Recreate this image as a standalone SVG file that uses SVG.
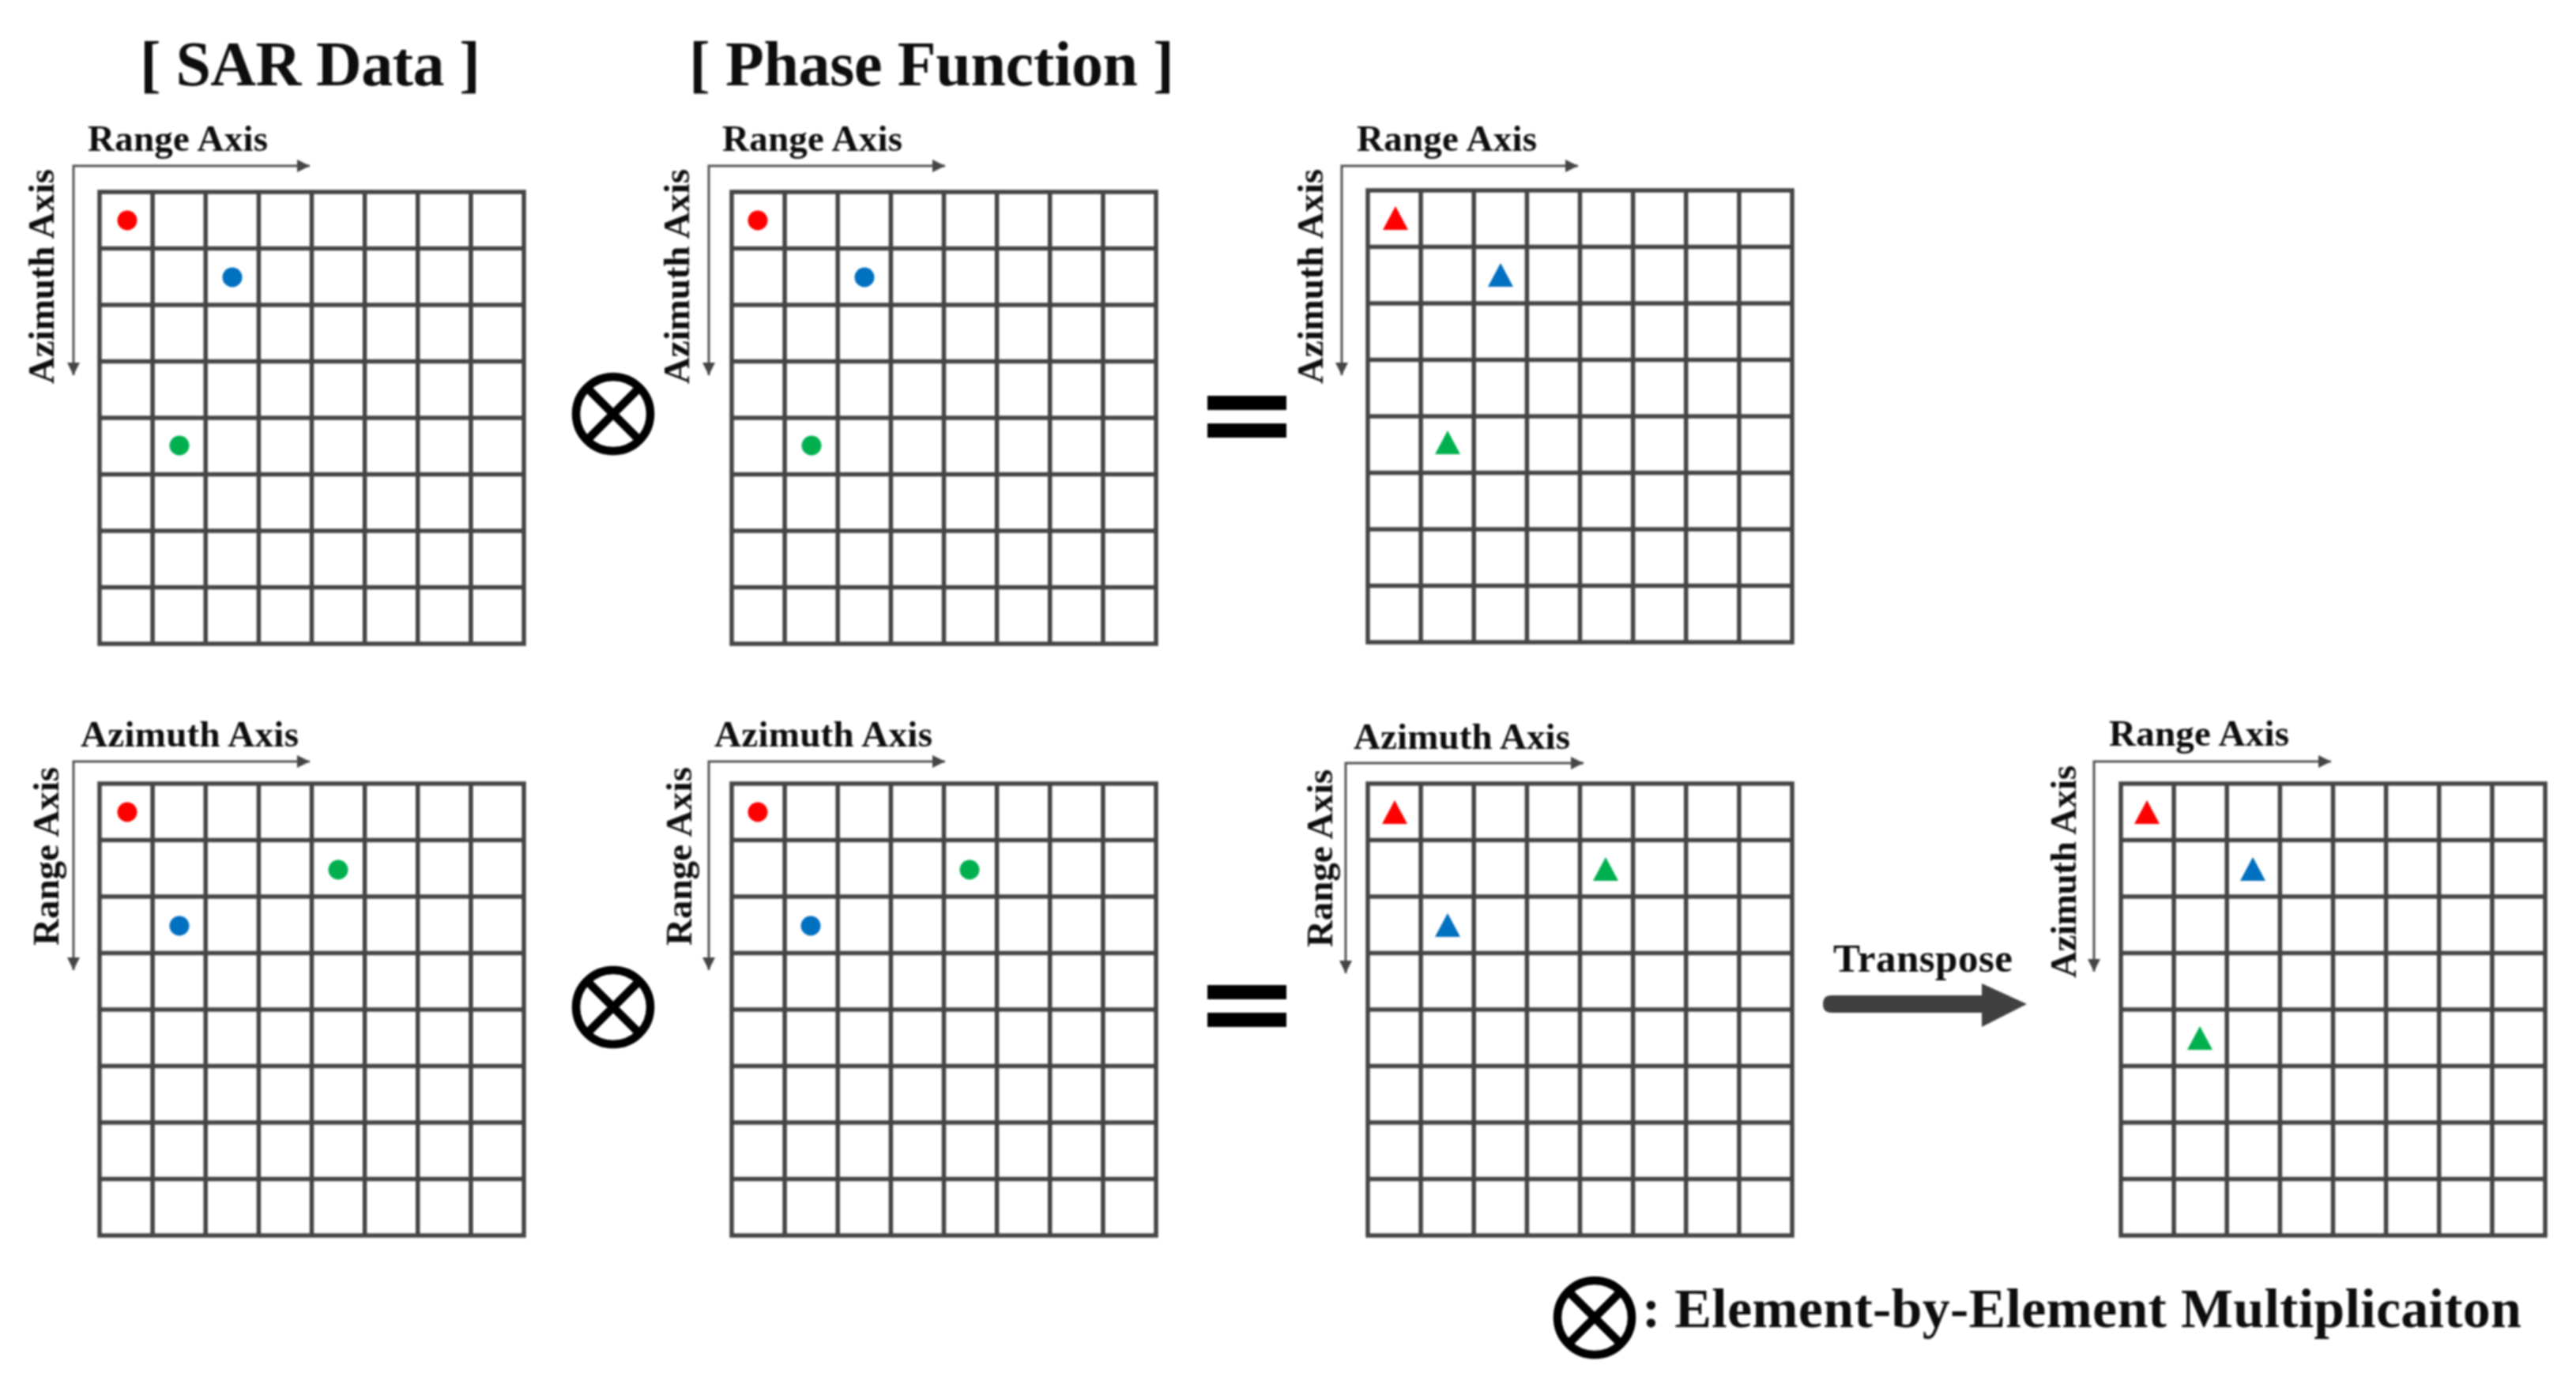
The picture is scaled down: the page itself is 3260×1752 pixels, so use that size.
<svg xmlns="http://www.w3.org/2000/svg" xmlns:xlink="http://www.w3.org/1999/xlink" width="3260" height="1752" viewBox="0 0 3260 1752">
<style>
text{font-family:"Liberation Serif","Times New Roman",serif;font-weight:bold;fill:#111}
.t{font-size:80px}.a{font-size:47px}.n{font-size:51px}.l{font-size:70px}
.g{fill:none;stroke:#444;stroke-width:5.5}
.ax{fill:none;stroke:#555;stroke-width:3;marker-start:url(#ah);marker-end:url(#ah)}
.o{fill:none;stroke:#000;stroke-width:10.5}
.r{fill:#f00}.b{fill:#0070c0}.e{fill:#00b050}
</style>
<defs>
<filter id="soft" filterUnits="userSpaceOnUse" x="0" y="0" width="3260" height="1752"><feGaussianBlur stdDeviation="0.9"/></filter>
<marker id="ah" markerUnits="userSpaceOnUse" markerWidth="20" markerHeight="20" refX="16" refY="8" orient="auto-start-reverse"><path d="M0 0L16 8L0 16z" fill="#444"/></marker>
<path id="grid" class="g" d="M0 0H537V572H0zM0 71.5H537M0 143H537M0 214.500H537M0 286H537M0 357.500H537M0 429H537M0 500.500H537M67.100 0V572M134.200 0V572M201.400 0V572M268.500 0V572M335.600 0V572M402.700 0V572M469.900 0V572"/>
<circle id="dot" r="12.500"/>
<path id="tri" d="M0 -16L16 14H-16z"/>
<g id="otimes"><circle class="o" r="47"/><path class="o" d="M-33 -33L33 33M33 -33L-33 33"/></g>
<path id="eq" d="M0 0H100V18H0zM0 35H100V53H0z" fill="#000"/>
</defs>
<rect width="3260" height="1752" fill="#fff"/>
<g filter="url(#soft)">
<text class="t" x="177" y="108" textLength="431">[ SAR Data ]</text>
<text class="t" x="872" y="108" textLength="614">[ Phase Function ]</text>

<g id="connectors">
<path class="ax" d="M392 210H93V475"/>
<path class="ax" d="M1196 210H897V475"/>
<path class="ax" d="M1997 210H1698V475"/>
<path class="ax" d="M392 964H93V1228"/>
<path class="ax" d="M1196 964H897V1228"/>
<path class="ax" d="M2004 966H1703V1232"/>
<path class="ax" d="M2950 964H2650V1230"/>
<path id="transpose-arrow" fill="#404040" d="M2318 1260H2508V1245L2565 1271L2508 1300V1282H2318Q2307 1282 2307 1271Q2307 1260 2318 1260z"/>
</g>

<g id="panel-a1">
<use href="#grid" x="126" y="243"/>
<text class="a" x="111" y="191" textLength="228">Range Axis</text>
<text class="a" transform="translate(68 486) rotate(-90)" textLength="272">Azimuth Axis</text>
<use href="#dot" class="r" x="161" y="279"/><use href="#dot" class="b" x="294" y="351"/><use href="#dot" class="e" x="227" y="564"/>
</g>
<g id="panel-b1">
<use href="#grid" x="926" y="243"/>
<text class="a" x="914" y="191" textLength="228">Range Axis</text>
<text class="a" transform="translate(872 486) rotate(-90)" textLength="272">Azimuth Axis</text>
<use href="#dot" class="r" x="959" y="279"/><use href="#dot" class="b" x="1094" y="351"/><use href="#dot" class="e" x="1027" y="564"/>
</g>
<g id="panel-c1">
<use href="#grid" x="1731" y="241"/>
<text class="a" x="1717" y="191" textLength="228">Range Axis</text>
<text class="a" transform="translate(1674 486) rotate(-90)" textLength="272">Azimuth Axis</text>
<use href="#tri" class="r" x="1766" y="277"/><use href="#tri" class="b" x="1899" y="349"/><use href="#tri" class="e" x="1832" y="561"/>
</g>
<g id="panel-a2">
<use href="#grid" x="126" y="992"/>
<text class="a" x="102" y="945" textLength="276">Azimuth Axis</text>
<text class="a" transform="translate(74 1197) rotate(-90)" textLength="226">Range Axis</text>
<use href="#dot" class="r" x="161" y="1028"/><use href="#dot" class="e" x="428" y="1101"/><use href="#dot" class="b" x="227" y="1172"/>
</g>
<g id="panel-b2">
<use href="#grid" x="926" y="992"/>
<text class="a" x="904" y="945" textLength="276">Azimuth Axis</text>
<text class="a" transform="translate(875 1197) rotate(-90)" textLength="226">Range Axis</text>
<use href="#dot" class="r" x="959" y="1028"/><use href="#dot" class="e" x="1227" y="1101"/><use href="#dot" class="b" x="1026" y="1172"/>
</g>
<g id="panel-c2">
<use href="#grid" x="1731" y="992"/>
<text class="a" x="1713" y="948" textLength="274">Azimuth Axis</text>
<text class="a" transform="translate(1686 1199) rotate(-90)" textLength="225">Range Axis</text>
<use href="#tri" class="r" x="1765" y="1029"/><use href="#tri" class="e" x="2032" y="1101"/><use href="#tri" class="b" x="1832" y="1172"/>
</g>
<g id="panel-d2">
<use href="#grid" x="2684" y="992"/>
<text class="a" x="2669" y="944" textLength="228">Range Axis</text>
<text class="a" transform="translate(2627 1238) rotate(-90)" textLength="269">Azimuth Axis</text>
<use href="#tri" class="r" x="2717" y="1029"/><use href="#tri" class="b" x="2851" y="1101"/><use href="#tri" class="e" x="2784" y="1315"/>
</g>

<g id="op-1"><use href="#otimes" x="776" y="524"/></g>
<g id="op-2"><use href="#otimes" x="776" y="1275"/></g>
<g id="eq-1"><use href="#eq" x="1528" y="501"/></g>
<g id="eq-2"><use href="#eq" x="1528" y="1247"/></g>
<g id="transpose-label"><text class="n" x="2320" y="1230" textLength="227">Transpose</text></g>
<g id="legend"><use href="#otimes" x="2018" y="1668"/>
<text class="l" x="2078" y="1680" textLength="1113">: Element-by-Element Multiplicaiton</text></g>
</g>
</svg>
